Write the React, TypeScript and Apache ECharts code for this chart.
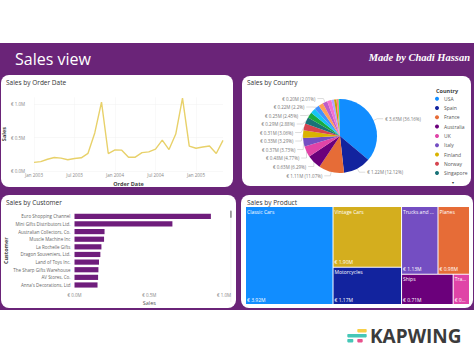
import React, { useEffect, useRef } from "react";
import * as echarts from "echarts";

const months = [
  "Jan 2003", "Feb 2003", "Mar 2003", "Apr 2003", "May 2003", "Jun 2003", "Jul 2003", "Aug 2003", "Sep 2003", "Oct 2003", "Nov 2003", "Dec 2003",
  "Jan 2004", "Feb 2004", "Mar 2004", "Apr 2004", "May 2004", "Jun 2004", "Jul 2004", "Aug 2004", "Sep 2004", "Oct 2004", "Nov 2004", "Dec 2004",
  "Jan 2005", "Feb 2005", "Mar 2005", "Apr 2005", "May 2005",
];
const monthlySales = [
  0.129, 0.140, 0.175, 0.201, 0.192, 0.168, 0.187, 0.197, 0.264, 0.568, 1.029, 0.261,
  0.316, 0.311, 0.205, 0.206, 0.274, 0.286, 0.327, 0.461, 0.320, 0.552, 1.089, 0.372,
  0.339, 0.358, 0.374, 0.261, 0.457,
];

const countries = [
  "USA", "Spain", "France", "Australia", "UK", "Italy", "Finland", "Norway", "Singapore", "Denmark",
  "Canada", "Germany", "Sweden", "Austria", "Japan", "Switzerland", "Belgium", "Philippines", "Ireland",
];
const countrySales = [
  3627983, 1215687, 1110917, 630623, 478880, 374674, 329582, 307464, 288488, 245637,
  224079, 220472, 210014, 202063, 188168, 117714, 108413, 94016, 57756,
];
const labelledCountries = ["USA", "Spain", "France", "Australia", "UK", "Italy", "Finland", "Norway", "Singapore", "Denmark", "Germany", "Austria"];
const legendCountries = countries.slice(0, 9);
const countryColors = [
  "#118DFF", "#12239E", "#E66C37", "#6B007B", "#E044A7", "#744EC2", "#D9B300", "#D64550", "#197278", "#1AAB40",
  "#15C6F4", "#4092FF", "#FFA058", "#BE5DC9", "#F472D0", "#B5A1FF", "#C4A200", "#FF8080", "#00DBBC",
];

const customers = [
  "Euro Shopping Channel", "Mini Gifts Distributors Ltd.", "Australian Collectors, Co.", "Muscle Machine Inc",
  "La Rochelle Gifts", "Dragon Souveniers, Ltd.", "Land of Toys Inc.", "The Sharp Gifts Warehouse",
  "AV Stores, Co.", "Anna's Decorations, Ltd",
];
const customerSales = [912294, 654858, 200995, 197737, 180125, 172990, 164069, 160010, 157808, 153996];
const salesTicks = [0, 500000, 1000000];

const products = ["Classic Cars", "Vintage Cars", "Motorcycles", "Trucks and Buses", "Planes", "Ships", "Trains"];
const productSales = [3919616, 1903151, 1166388, 1127790, 975003, 714437, 226243];
const productColors = ["#118DFF", "#D4AE1E", "#12239E", "#744EC2", "#E66C37", "#6B007B", "#E044A7"];

const FONT = "'Open Sans', 'Noto Sans', sans-serif";
const PURPLE = "#6a2478";

function eurM(v: number, d = 2) {
  return "€ " + (v / 1e6).toFixed(d) + "M";
}

export default function App() {
  const ref = useRef<HTMLDivElement>(null);
  useEffect(() => {
    if (!ref.current) return;
    const chart = echarts.init(ref.current, undefined, { renderer: "svg" });

    const panels = [
      { x: 1, y: 75, w: 232, h: 112 },
      { x: 242, y: 76, w: 229, h: 110 },
      { x: 1, y: 195, w: 235, h: 113 },
      { x: 241, y: 195, w: 232, h: 113 },
    ];
    const titles = [
      { t: "Sales by Order Date", x: 6, y: 82 },
      { t: "Sales by Country", x: 247, y: 82 },
      { t: "Sales by Customer", x: 6, y: 202 },
      { t: "Sales by Product", x: 247, y: 202 },
    ];

    const graphics: any[] = [
      { type: "rect", z: -10, shape: { x: 0, y: 43, width: 474, height: 267 }, style: { fill: PURPLE } },
      ...panels.map((p) => ({
        type: "rect", z: -9, shape: { x: p.x, y: p.y, width: p.w, height: p.h, r: 8 }, style: { fill: "#ffffff" },
      })),
      ...titles.map((t) => ({
        type: "text", z: -8, x: t.x, y: t.y,
        style: { text: t.t, fill: "#333", fontSize: 6.5, fontFamily: FONT, verticalAlign: "middle", textVerticalAlign: "middle" },
      })),
      {
        type: "text", x: 15, y: 59,
        style: { text: "Sales view", fill: "#fff", fontSize: 16, fontFamily: FONT, verticalAlign: "middle", textVerticalAlign: "middle" },
      },
      {
        type: "text", x: 470, y: 57,
        style: {
          text: "Made by Chadi Hassan", fill: "#fff", font: "italic bold 10.5px 'Liberation Serif', serif",
          align: "right", textAlign: "right", verticalAlign: "middle", textVerticalAlign: "middle",
        },
      },
      {
        type: "text", x: 436, y: 91,
        style: { text: "Country", fill: "#444", fontSize: 5.5, fontWeight: "bold", fontFamily: FONT, verticalAlign: "middle", textVerticalAlign: "middle" },
      },
      {
        type: "text", x: 453, y: 182.5,
        style: { text: "▼", fill: "#333", fontSize: 3.5, fontFamily: FONT, align: "center", textAlign: "center", verticalAlign: "middle", textVerticalAlign: "middle" },
      },
      // scrollbar in customer panel
      { type: "rect", shape: { x: 230.5, y: 210, width: 0.8, height: 92 }, style: { fill: "#eeeeee" } },
      { type: "rect", shape: { x: 230, y: 210.5, width: 1.8, height: 7.5, r: 0.9 }, style: { fill: "#9a9a9a" } },
      // Kapwing logo
      { type: "rect", shape: { x: 357.3, y: 329, width: 9.4, height: 3.4, r: 0.8 }, style: { fill: "#f7cf47" } },
      { type: "rect", shape: { x: 347.3, y: 334, width: 19.4, height: 3.4, r: 0.8 }, style: { fill: "#45c7b7" } },
      { type: "rect", shape: { x: 347.3, y: 339, width: 6, height: 3.4, r: 0.8 }, style: { fill: "#45c7b7" } },
      { type: "rect", shape: { x: 357.3, y: 339, width: 5.4, height: 3.4, r: 0.8 }, style: { fill: "#e9508c" } },
      {
        type: "text", x: 370, y: 336,
        style: { text: "KAPWING", fill: "#3b3b3b", fontSize: 19, fontWeight: "bold", fontFamily: "'Open Sans', sans-serif", verticalAlign: "middle", textVerticalAlign: "middle" },
      },
    ];

    const axisLabelStyle = { fontSize: 4.5, color: "#888", fontFamily: FONT };
    const axisNameStyle = { fontSize: 5.5, color: "#444", fontWeight: "bold" as const, fontFamily: FONT };

    const option: any = {
      animation: false,
      textStyle: { fontFamily: FONT },
      graphic: { elements: graphics },
      grid: [
        { left: 34, right: 251, top: 97.3, bottom: 184 },
        { left: 74.5, right: 250, top: 212.5, bottom: 66.2 },
      ],
      xAxis: [
        {
          gridIndex: 0, type: "category", data: months, boundaryGap: false,
          axisLine: { show: false }, axisTick: { show: false },
          axisLabel: { ...axisLabelStyle, interval: 5, margin: 1.5 },
          splitLine: { show: true, interval: 5, lineStyle: { color: "#f2f2f2", width: 0.5 } },
          name: "Order Date", nameLocation: "middle", nameGap: 9.5, nameTextStyle: axisNameStyle,
        },
        {
          gridIndex: 1, type: "value", min: salesTicks[0], max: salesTicks[2], interval: salesTicks[1],
          axisLine: { show: false }, axisTick: { show: false }, splitLine: { show: false },
          axisLabel: { ...axisLabelStyle, margin: 4, formatter: (v: number) => eurM(v, 1) },
          name: "Sales", nameLocation: "middle", nameGap: 11, nameTextStyle: { ...axisNameStyle, fontWeight: "normal", color: "#555" },
        },
      ],
      yAxis: [
        {
          gridIndex: 0, type: "value", min: 0, max: 1.1, interval: 0.5,
          axisLine: { show: false }, axisTick: { show: false },
          splitLine: { show: true, showMaxLine: false, lineStyle: { color: "#f0f0f0", width: 0.5 } },
          axisLabel: {
            ...axisLabelStyle, margin: 9,
            formatter: (v: number) => (Math.abs(v * 2 - Math.round(v * 2)) < 1e-6 ? "€ " + v.toFixed(1) + "M" : ""),
          },
          name: "Sales", nameLocation: "middle", nameGap: 25, nameRotate: 90, nameTextStyle: axisNameStyle,
        },
        {
          gridIndex: 1, type: "category", data: customers, inverse: true,
          axisLine: { show: false }, axisTick: { show: false },
          axisLabel: { fontSize: 4.5, color: "#666", fontFamily: FONT, margin: 4 },
          name: "Customer", nameLocation: "middle", nameGap: 66, nameRotate: 90, nameTextStyle: axisNameStyle,
        },
      ],
      legend: {
        data: legendCountries, orient: "vertical", left: 435, top: 95.7, padding: 0,
        icon: "circle", itemWidth: 4, itemHeight: 4, itemGap: 3.3,
        textStyle: { fontSize: 5, color: "#555", fontFamily: FONT, lineHeight: 6 },
        selectedMode: false,
      },
      series: [
        {
          type: "line", xAxisIndex: 0, yAxisIndex: 0, data: monthlySales,
          showSymbol: false, lineStyle: { color: "#e8d16a", width: 1.4 }, itemStyle: { color: "#e8d16a" },
        },
        {
          type: "bar", xAxisIndex: 1, yAxisIndex: 1, data: customerSales, barWidth: "68%",
          itemStyle: { color: "#6f1d7c" },
        },
        {
          type: "pie", center: [340, 136], radius: 37, startAngle: 90, clockwise: true,
          data: countries.map((c, i) => ({
            name: c, value: countrySales[i], itemStyle: { color: countryColors[i] },
            label: { show: labelledCountries.includes(c) },
            labelLine: { show: labelledCountries.includes(c) },
          })),
          label: {
            position: "outside", fontSize: 4.5, color: "#777", fontFamily: FONT, distanceToLabelLine: 2, minMargin: 3.5,
            formatter: (p: any) => eurM(p.value) + " (" + p.percent + "%)",
          },
          labelLine: { length: 4, length2: 6, lineStyle: { color: "#bbb", width: 0.5 } },
          emphasis: { disabled: true },
        },
        {
          type: "treemap", left: 246, top: 207, width: 223, height: 97,
          roam: false, nodeClick: false, breadcrumb: { show: false },
          levels: [{ itemStyle: { gapWidth: 1, borderWidth: 0, borderColor: "#fff" } }],
          label: { show: true, position: "insideTopLeft", fontSize: 5, color: "#fff", fontFamily: FONT, padding: [2, 1], formatter: "{b}" },
          upperLabel: { show: false },
          emphasis: { disabled: true },
          data: products.map((p, i) => ({ name: p, value: productSales[i], itemStyle: { color: productColors[i] } })),
        },
        {
          type: "treemap", left: 246, top: 207, width: 223, height: 97, silent: true,
          roam: false, nodeClick: false, breadcrumb: { show: false },
          levels: [{ itemStyle: { gapWidth: 1, borderWidth: 0, borderColor: "transparent" } }],
          itemStyle: { color: "rgba(0,0,0,0)" },
          label: {
            show: true, position: "insideBottomLeft", fontSize: 5, color: "#fff", fontFamily: FONT, padding: [2, 1],
            formatter: (p: any) => eurM(p.value),
          },
          upperLabel: { show: false },
          emphasis: { disabled: true },
          data: products.map((p, i) => ({ name: p, value: productSales[i], itemStyle: { color: "rgba(0,0,0,0)" } })),
        },
      ],
    };
    chart.setOption(option);
    return () => chart.dispose();
  }, []);
  return <div ref={ref} style={{ position: "absolute", left: 0, top: 0, width: 474, height: 355, background: "#fff" }} />;
}
